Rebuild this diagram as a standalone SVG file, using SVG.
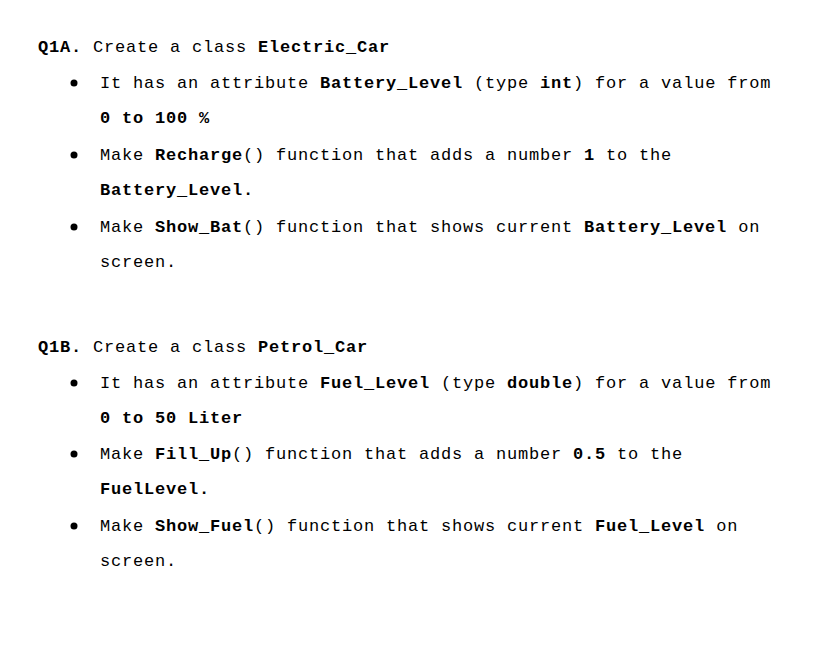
<svg xmlns="http://www.w3.org/2000/svg" width="830" height="657" viewBox="0 0 830 657">
<style>
text{font-family:"Liberation Mono","DejaVu Sans Mono",monospace;font-size:17px;letter-spacing:0.8px;fill:#000;white-space:pre}
.b{font-weight:bold}
circle{fill:#000}
</style>
<rect width="830" height="657" fill="#fff"/>
<g id="q1a">
<text x="38" y="52" xml:space="preserve"><tspan class="b">Q1A.</tspan> Create a class <tspan class="b">Electric_Car</tspan></text>
<circle cx="74" cy="83" r="3.5"/>
<text x="100" y="88" xml:space="preserve">It has an attribute <tspan class="b">Battery_Level</tspan> (type <tspan class="b">int</tspan>) for a value from</text>
<text x="100" y="123" class="b" xml:space="preserve">0 to 100 %</text>
<circle cx="74" cy="155" r="3.5"/>
<text x="100" y="160" xml:space="preserve">Make <tspan class="b">Recharge</tspan>() function that adds a number <tspan class="b">1</tspan> to the</text>
<text x="100" y="195" class="b" xml:space="preserve">Battery_Level.</text>
<circle cx="74" cy="227" r="3.5"/>
<text x="100" y="232" xml:space="preserve">Make <tspan class="b">Show_Bat</tspan>() function that shows current <tspan class="b">Battery_Level</tspan> on</text>
<text x="100" y="267" xml:space="preserve">screen.</text>
</g>
<g id="q1b">
<text x="38" y="352" xml:space="preserve"><tspan class="b">Q1B.</tspan> Create a class <tspan class="b">Petrol_Car</tspan></text>
<circle cx="74" cy="383" r="3.5"/>
<text x="100" y="388" xml:space="preserve">It has an attribute <tspan class="b">Fuel_Level</tspan> (type <tspan class="b">double</tspan>) for a value from</text>
<text x="100" y="423" class="b" xml:space="preserve">0 to 50 Liter</text>
<circle cx="74" cy="454" r="3.5"/>
<text x="100" y="459" xml:space="preserve">Make <tspan class="b">Fill_Up</tspan>() function that adds a number <tspan class="b">0.5</tspan> to the</text>
<text x="100" y="494" class="b" xml:space="preserve">FuelLevel.</text>
<circle cx="74" cy="526" r="3.5"/>
<text x="100" y="531" xml:space="preserve">Make <tspan class="b">Show_Fuel</tspan>() function that shows current <tspan class="b">Fuel_Level</tspan> on</text>
<text x="100" y="566" xml:space="preserve">screen.</text>
</g>
</svg>
